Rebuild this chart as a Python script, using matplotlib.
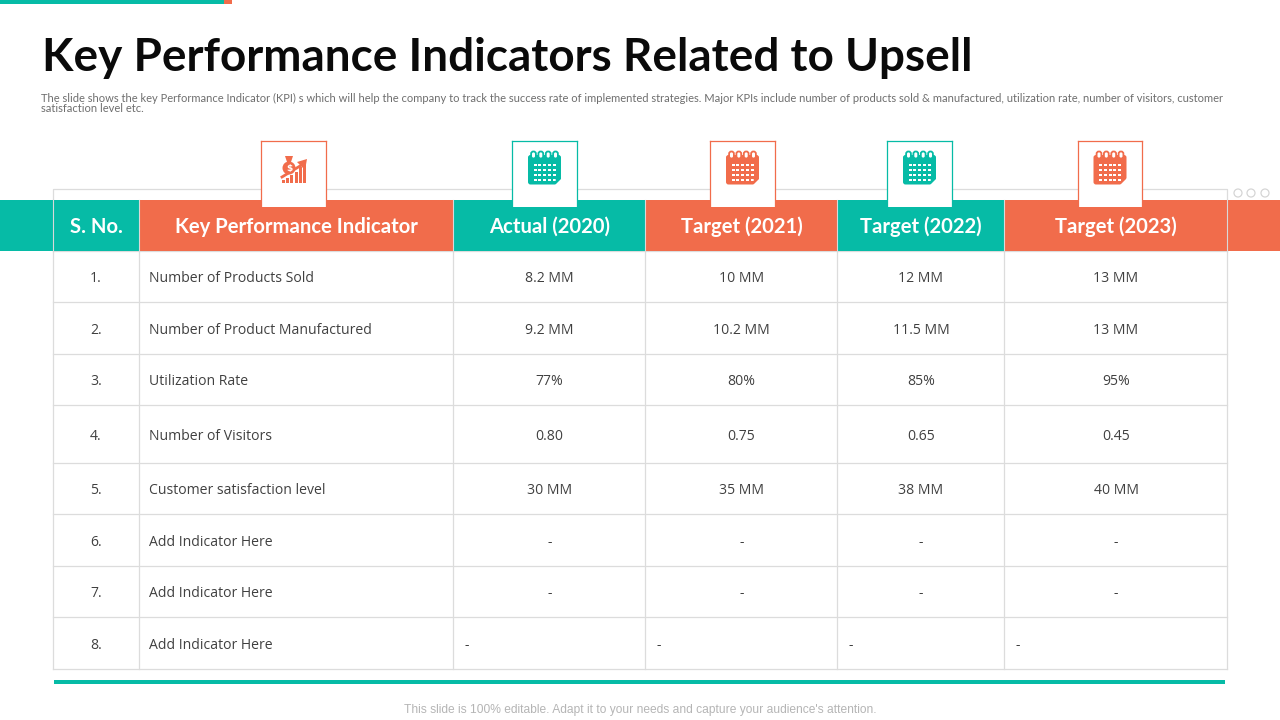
import matplotlib
matplotlib.use('Agg')
import matplotlib.pyplot as plt
from matplotlib.patches import Rectangle, Circle, FancyBboxPatch, Polygon

TEAL = '#06BBA6'
ORANGE = '#F16C4B'
GRID = '#DCDCDC'

title = 'Key Performance Indicators Related to Upsell'
subtitle = ['The slide shows the key Performance Indicator (KPI) s which will help the company to track the success rate of implemented strategies. Major KPIs include number of products sold & manufactured, utilization rate, number of visitors, customer',
            'satisfaction level etc.']
footer = "This slide is 100% editable. Adapt it to your needs and capture your audience's attention."

headers = ['S. No.', 'Key Performance Indicator', 'Actual (2020)', 'Target (2021)', 'Target (2022)', 'Target (2023)']
serial = ['1.', '2.', '3.', '4.', '5.', '6.', '7.', '8.']
indicators = ['Number of Products Sold', 'Number of Product Manufactured', 'Utilization Rate', 'Number of Visitors',
              'Customer satisfaction level', 'Add Indicator Here', 'Add Indicator Here', 'Add Indicator Here']
actual_2020 = ['8.2 MM', '9.2 MM', '77%', '0.80', '30 MM', '-', '-', '-']
target_2021 = ['10 MM', '10.2 MM', '80%', '0.75', '35 MM', '-', '-', '-']
target_2022 = ['12 MM', '11.5 MM', '85%', '0.65', '38 MM', '-', '-', '-']
target_2023 = ['13 MM', '13 MM', '95%', '0.45', '40 MM', '-', '-', '-']

col_x = [53, 139, 453, 645, 837, 1004, 1227]
row_y = [250.5, 302, 353.5, 405, 462.5, 514, 565.5, 617, 668.5]
head_colors = [TEAL, ORANGE, TEAL, ORANGE, TEAL, ORANGE]

fig = plt.figure(figsize=(12.8, 7.2), dpi=100)
ax = fig.add_axes([0, 0, 1, 1])
ax.set_xlim(0, 1280)
ax.set_ylim(720, 0)
ax.axis('off')


def rect(x0, y0, x1, y1, color, z=1):
    ax.add_patch(Rectangle((x0, y0), x1 - x0, y1 - y0, facecolor=color, edgecolor='none', zorder=z))


def calendar(cx, cy, color):
    ax.add_patch(FancyBboxPatch((cx - 16.5, cy - 13), 33, 29.5, boxstyle='round,pad=0,rounding_size=2.5',
                                facecolor=color, edgecolor='none', zorder=6))
    for dx in [-11, -3.7, 3.7, 11]:
        ax.add_patch(FancyBboxPatch((cx + dx - 2.4, cy - 16.5), 4.8, 7, boxstyle='round,pad=0,rounding_size=2.3',
                                    facecolor='white', edgecolor=color, linewidth=1.3, zorder=7))
    for gy in [-3, 2, 7, 12]:
        for gx in [-9.5, -4.8, 0, 4.8, 9.5]:
            rect(cx + gx - 1.5, cy + gy - 0.6, cx + gx + 1.5, cy + gy + 0.6, '#FFFFFF', 7)
    ax.add_patch(Polygon([(cx + 17, cy + 10), (cx + 17, cy + 17), (cx + 10, cy + 17)],
                         facecolor='white', edgecolor='none', zorder=8))
    ax.add_patch(Polygon([(cx + 11, cy + 11), (cx + 15.5, cy + 11), (cx + 11, cy + 15.5)],
                         facecolor=color, alpha=0.6, edgecolor='none', zorder=9))


def money_chart(cx, cy, color):
    ax.add_patch(Circle((cx - 5, cy - 1), 6.5, facecolor=color, edgecolor='none', zorder=6))
    ax.add_patch(Polygon([(cx - 9, cy - 13), (cx - 1, cy - 13), (cx - 3, cy - 7), (cx - 7, cy - 7)],
                         facecolor=color, edgecolor='none', zorder=6))
    ax.text(cx - 5, cy - 0.5, '$', color='white', fontsize=6.5, fontweight='bold', ha='center', va='center', zorder=7)
    heights = [3, 5, 8, 11, 16, 20]
    for i, h in enumerate(heights):
        rect(cx - 12 + i * 4.2, cy + 14 - h, cx - 9 + i * 4.2, cy + 14, color, 6)
    ax.plot([cx - 12, cx + 6], [cy + 8, cy - 3], color=color, lw=2, zorder=6)
    ax.add_patch(Polygon([(cx + 3, cy - 7), (cx + 13, cy - 10), (cx + 11, cy + 1)],
                         facecolor=color, edgecolor='none', zorder=6))


# top accent bar
rect(0, 0, 224, 4, TEAL)
rect(224, 0, 232, 4, ORANGE)

ax.text(42, 58, title, fontsize=33, fontweight='bold', family='Lato', color='#0A0A0A', va='center', ha='left')
ax.text(41, 98, subtitle[0], fontsize=8.02, family='Lato', color='#6E6E6E', va='center', ha='left')
ax.text(41, 108.5, subtitle[1], fontsize=8.02, family='Lato', color='#6E6E6E', va='center', ha='left')

# outer frame behind the header band
ax.plot([53, 53, 1227, 1227], [200, 188.5, 188.5, 200], color=GRID, lw=0.9, zorder=1)
for cx in [1238, 1251, 1265]:
    ax.add_patch(Circle((cx, 193), 4, facecolor='white', edgecolor='#D5D5D5', lw=0.9, zorder=2))

# header band
rect(0, 200, 54, 251, TEAL, 2)
rect(1227, 200, 1280, 251, ORANGE, 2)
for i, h in enumerate(headers):
    rect(col_x[i], 200, col_x[i + 1], 251, head_colors[i], 2)
    ax.plot([col_x[i], col_x[i]], [200, 251], color='#D9D9D9', lw=0.8, zorder=3)
    ax.text((col_x[i] + col_x[i + 1]) / 2 + 0.5, 227, h, color='white', fontsize=14.6, fontweight='bold',
            family='Lato', ha='center', va='center', zorder=4)
ax.plot([1227, 1227], [200, 251], color='#D9D9D9', lw=0.8, zorder=3)

# icon boxes
box_x = [(261, 326), (512, 577), (710, 775), (887, 952), (1078, 1142)]
box_color = [ORANGE, TEAL, ORANGE, TEAL, ORANGE]
for (x0, x1), c in zip(box_x, box_color):
    ax.add_patch(Rectangle((x0, 141), x1 - x0, 65.5, facecolor='white', edgecolor='none', zorder=4))
    ax.plot([x0, x0], [206.5, 141], color=c, lw=0.9, zorder=5)
    ax.plot([x0, x1], [141, 141], color=c, lw=0.9, zorder=5)
    ax.plot([x1, x1], [141, 206.5], color=c, lw=0.9, zorder=5)
money_chart(294, 169, ORANGE)
for (x0, x1), c in zip(box_x[1:], box_color[1:]):
    calendar((x0 + x1) / 2, 168, c)

# table grid
for y in row_y:
    ax.plot([53, 1227], [y, y], color=GRID, lw=0.9, zorder=1)
for x in col_x:
    ax.plot([x, x], [251, 669], color=GRID, lw=0.9, zorder=1)

# table text
value_cols = [actual_2020, target_2021, target_2022, target_2023]
row_text_y = [278.5, 330.5, 381.5, 436.5, 490.5, 542.5, 593.5, 645.5]
for r in range(8):
    y = row_text_y[r]
    ax.text(96, y, serial[r], fontsize=10.05, family='Open Sans', color='#404040', ha='center', va='center')
    ax.text(149, y, indicators[r], fontsize=10.05, family='Open Sans', color='#404040', ha='left', va='center')
    for c, values in enumerate(value_cols):
        x0, x1 = col_x[c + 2], col_x[c + 3]
        if r == 7:
            ax.text(x0 + 11.5, y, values[r], fontsize=10.05, family='Open Sans', color='#404040', ha='left', va='center')
        else:
            ax.text((x0 + x1) / 2 + 0.5, y, values[r], fontsize=10.05, family='Open Sans', color='#404040',
                    ha='center', va='center')

# bottom bar and footer
rect(54, 680, 1225, 684, TEAL)
ax.text(640, 710.5, footer, fontsize=8.65, family='Liberation Sans', color='#B5B5B5', ha='center', va='center')

fig.savefig('out.png', dpi=100)
